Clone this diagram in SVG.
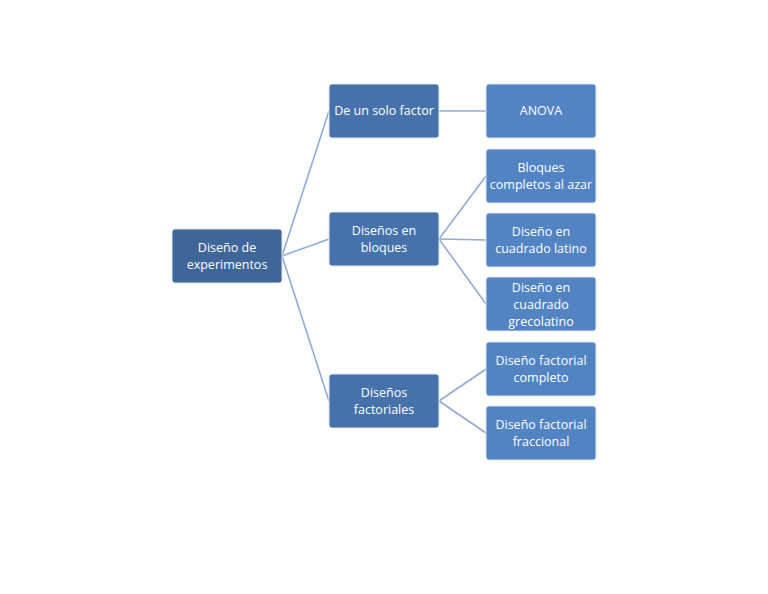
<svg xmlns="http://www.w3.org/2000/svg" width="768" height="594" viewBox="0 0 768 594">
<style>
.n rect{stroke:#dfe6f0;stroke-width:1}
.r{fill:#3e6699}.a{fill:#4672ab}.b{fill:#5283c2}
text{font-family:"Open Sans","Liberation Sans",sans-serif;font-size:12.5px;fill:#fff;text-anchor:middle}
#c line{stroke:#90abd6;stroke-width:1.6}
</style>
<rect width="768" height="594" fill="#fff"/>
<g id="c">
<line x1="282" y1="256" x2="329" y2="111"/><line x1="282" y1="256" x2="329" y2="239"/><line x1="282" y1="256" x2="329" y2="401"/>
<line x1="439" y1="111" x2="486" y2="111"/>
<line x1="439" y1="239" x2="486" y2="176"/><line x1="439" y1="239" x2="486" y2="240"/><line x1="439" y1="239" x2="486" y2="304"/>
<line x1="439" y1="401" x2="486" y2="369"/><line x1="439" y1="401" x2="486" y2="433"/>
</g>
<g id="root" class="n"><rect class="r" x="172" y="229" width="110" height="54" rx="3"/><text x="227" y="252">Diseño de</text><text x="227" y="269">experimentos</text></g>
<g id="solo" class="n"><rect class="a" x="329" y="84" width="110" height="54" rx="3"/><text x="384" y="115">De un solo factor</text></g>
<g id="bloques" class="n"><rect class="a" x="329" y="212" width="110" height="54" rx="3"/><text x="384" y="235">Diseños en</text><text x="384" y="252">bloques</text></g>
<g id="factoriales" class="n"><rect class="a" x="329" y="374" width="110" height="54" rx="3"/><text x="384" y="397">Diseños</text><text x="384" y="414">factoriales</text></g>
<g id="anova" class="n"><rect class="b" x="486" y="84" width="110" height="54" rx="3"/><text x="541" y="115">ANOVA</text></g>
<g id="azar" class="n"><rect class="b" x="486" y="149" width="110" height="54" rx="3"/><text x="541" y="172">Bloques</text><text x="541" y="189">completos al azar</text></g>
<g id="latino" class="n"><rect class="b" x="486" y="213" width="110" height="54" rx="3"/><text x="541" y="236">Diseño en</text><text x="541" y="253">cuadrado latino</text></g>
<g id="greco" class="n"><rect class="b" x="486" y="277" width="110" height="54" rx="3"/><text x="541" y="292">Diseño en</text><text x="541" y="309">cuadrado</text><text x="541" y="326">grecolatino</text></g>
<g id="completo" class="n"><rect class="b" x="486" y="342" width="110" height="54" rx="3"/><text x="541" y="365">Diseño factorial</text><text x="541" y="382">completo</text></g>
<g id="fraccional" class="n"><rect class="b" x="486" y="406" width="110" height="54" rx="3"/><text x="541" y="429">Diseño factorial</text><text x="541" y="446">fraccional</text></g>
</svg>
